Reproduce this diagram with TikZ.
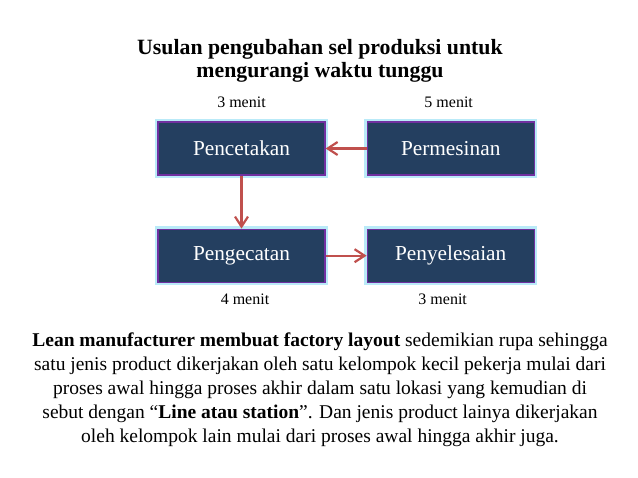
\documentclass[tikz,border=0pt]{standalone}
\usepackage{fontspec}
\setmainfont{Liberation Serif}
\usetikzlibrary{positioning,arrows.meta}
\definecolor{stagefill}{RGB}{36,63,96}
\definecolor{stageline}{RGB}{112,48,160}
\definecolor{stageglow}{RGB}{185,234,248}
\definecolor{flowred}{RGB}{192,80,77}

\begin{document}
\begin{tikzpicture}[x=1pt,y=-1pt]
    \tikzstyle{stage}=[draw=stageline, line width=1.2pt, fill=stagefill, text=white, minimum width=167pt, minimum height=53pt, inner sep=0pt, font=\fontsize{21.3}{24}\selectfont, preaction={draw=stageglow, line width=6pt}];
    \tikzstyle{menit}=[inner sep=0pt, font=\fontsize{16}{19}\selectfont];
    \tikzstyle{flow}=[draw=flowred, line width=2.2pt, -{Straight Barb[length=10pt,width=13pt]}];

    \useasboundingbox[fill=white] (0,0) rectangle (638,478);

    \node[font=\bfseries\fontsize{21.8}{23}\selectfont, align=center] (judul) at (320,61) {Usulan pengubahan sel produksi untuk\\mengurangi waktu tunggu};

    \node[stage] (cetak) at (241.5,148.5) {Pencetakan};
    \node[stage, right=41pt of cetak] (mesin) {Permesinan};
    \node[stage, below=53pt of cetak] (cat) {Pengecatan};
    \node[stage, right=41pt of cat] (selesai) {Penyelesaian};

    \node[menit, above=14pt of cetak] (tcetak) {3 menit};
    \node[menit, above=14pt of mesin, xshift=-2pt] (tmesin) {5 menit};
    \node[menit, below=11pt of cat, xshift=3.5pt] (tcat) {4 menit};
    \node[menit, below=11pt of selesai, xshift=-8pt] (tselesai) {3 menit};

    \draw[flow] (mesin) -- (cetak);
    \draw[flow] (cetak) -- (cat);
    \draw[flow] (cat) -- (selesai);

    \node[align=center, font=\fontsize{19.5}{24}\selectfont] (uraian) at (320,390) {\textbf{Lean manufacturer membuat factory layout} sedemikian rupa sehingga\\satu jenis product dikerjakan oleh satu kelompok kecil pekerja mulai dari\\proses awal hingga proses akhir dalam satu lokasi yang kemudian di\\sebut dengan “\textbf{Line atau station}”. Dan jenis product lainya dikerjakan\\oleh kelompok lain mulai dari proses awal hingga akhir juga.};
\end{tikzpicture}
\end{document}
